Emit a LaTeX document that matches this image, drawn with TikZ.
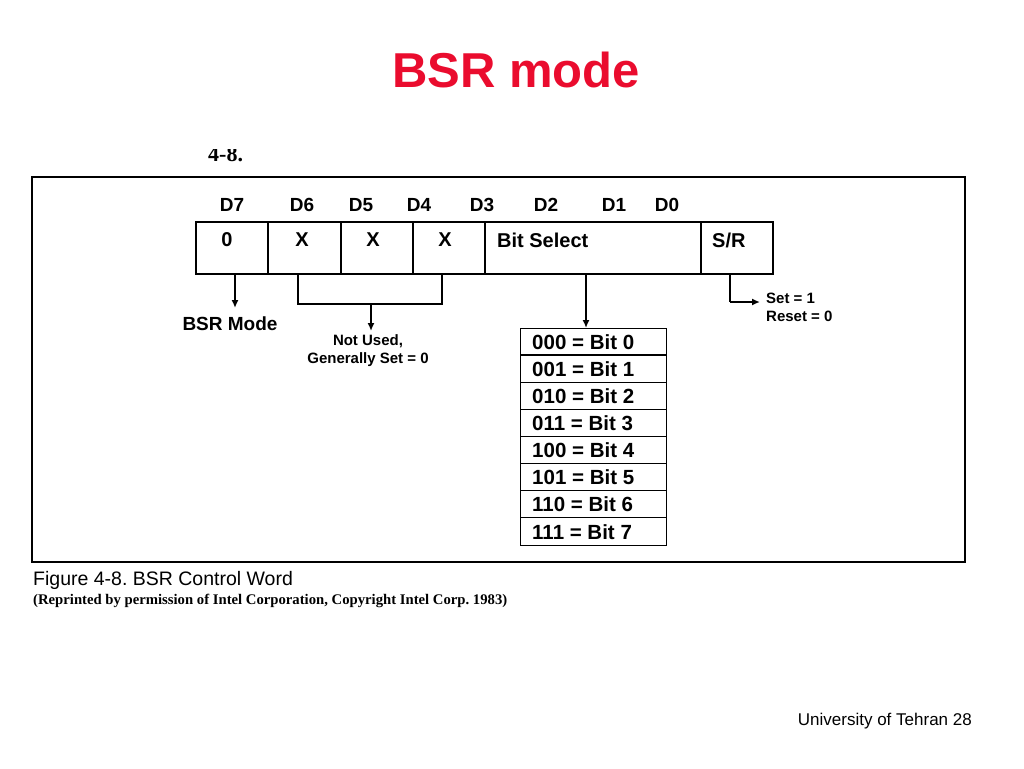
\documentclass[tikz,border=0pt]{standalone}
\usepackage{fontspec}
\setmainfont{Liberation Sans}
\newfontfamily\serifb{Liberation Serif}
\usetikzlibrary{arrows.meta}
\frenchspacing
\definecolor{titlered}{RGB}{234,12,46}
\tikzset{
  ln/.style={line width=1.8pt, draw=black},
  arr/.style={ln, -{Latex[length=8pt,width=7pt]}},
  lab/.style={font=\fontsize{19}{21}\selectfont\bfseries, inner sep=0pt},
  cell/.style={font=\fontsize{20}{22}\selectfont\bfseries, inner sep=0pt},
  small/.style={font=\fontsize{15}{18}\selectfont\bfseries, inner sep=0pt, align=center},
  row/.style={font=\fontsize{20.5}{22}\selectfont\bfseries, inner sep=0pt, anchor=west},
}
\begin{document}
\begin{tikzpicture}[x=1pt,y=-1pt]
\useasboundingbox (0,0) rectangle (1024,768);
% title
\node[font=\fontsize{49}{52}\selectfont\bfseries, text=titlered, anchor=base, inner sep=0pt] (title) at (516,87) {BSR mode};
% clipped "4-8."
\begin{scope}
\clip (150,149) rectangle (300,170);
\node[font=\serifb\fontsize{22}{24}\selectfont\bfseries, anchor=base west, inner sep=0pt] (fig48) at (208,161) {4-8.};
\end{scope}
% frame
\draw[line width=2.4pt] (32,177) rectangle (965,562);
% register
\draw[ln] (196,222) rectangle (773,274);
\foreach \x in {268,341,413,485,701} \draw[ln] (\x,222) -- (\x,274);
\coordinate (c7) at (235,274);
\coordinate (c6) at (298,274);
\coordinate (c4) at (442,274);
\coordinate (cbs) at (586,274);
\coordinate (csr) at (730,274);
% bit labels
\node[lab] (D7) at (232,205) {D7};
\node[lab] (D6) at (302,205) {D6};
\node[lab] (D5) at (361,205) {D5};
\node[lab] (D4) at (419,205) {D4};
\node[lab] (D3) at (482,205) {D3};
\node[lab] (D2) at (546,205) {D2};
\node[lab] (D1) at (614,205) {D1};
\node[lab] (D0) at (667,205) {D0};
% cell contents
\node[cell] (v7) at (227,240) {0};
\node[cell] (v6) at (302,240) {X};
\node[cell] (v5) at (373,240) {X};
\node[cell] (v4) at (445,240) {X};
\node[cell, anchor=west] (bs) at (497,240) {Bit Select};
\node[cell, anchor=west] (sr) at (712,240) {S/R};
% BSR mode arrow
\node[lab] (bsrmode) at (230,324) {BSR Mode};
\coordinate (a7) at (235,308);
\draw[arr] (c7) -- (a7);
% bracket
\coordinate (b1) at (298,304);
\coordinate (b2) at (442,304);
\coordinate (bm) at (371,304);
\coordinate (bma) at (371,331);
\draw[ln] (c6) -- (b1) -- (b2) -- (c4);
\draw[arr] (bm) -- (bma);
\node[small] (notused) at (368,351) {Not Used,\\Generally Set = 0};
% S/R arrow
\coordinate (sr1) at (730,302);
\coordinate (sr2) at (760,302);
\draw[ln] (csr) -- (sr1);
\draw[arr] (sr1) -- (sr2);
\node[small, anchor=west, align=left] (setreset) at (766,307) {Set = 1\\Reset = 0};
% table
\node[draw, line width=1.4pt, minimum width=146pt, minimum height=217pt, anchor=north west, inner sep=0pt] (tbl) at (520,328) {};
\foreach \i in {1,...,7} \draw[line width=1.4pt] (520,{328+\i*27.1}) -- (666,{328+\i*27.1});
\draw[arr] (cbs) -- (tbl.north -| cbs);
\foreach \i/\t in {0/000 = Bit 0,1/001 = Bit 1,2/010 = Bit 2,3/011 = Bit 3,4/100 = Bit 4,5/101 = Bit 5,6/110 = Bit 6,7/111 = Bit 7}
  \node[row] (r\i) at (532,{342+\i*27.1}) {\t};
% captions
\node[font=\fontsize{19.5}{21}\selectfont, anchor=west, inner sep=0pt] (cap) at (33,580) {Figure 4-8. BSR Control Word};
\node[font=\serifb\fontsize{14.7}{16}\selectfont\bfseries, anchor=west, inner sep=0pt] (rep) at (33,601) {(Reprinted by permission of Intel Corporation, Copyright Intel Corp. 1983)};
\node[font=\fontsize{17}{19}\selectfont, anchor=east, inner sep=0pt] (uni) at (972,721) {University of Tehran 28};
\end{tikzpicture}
\end{document}
